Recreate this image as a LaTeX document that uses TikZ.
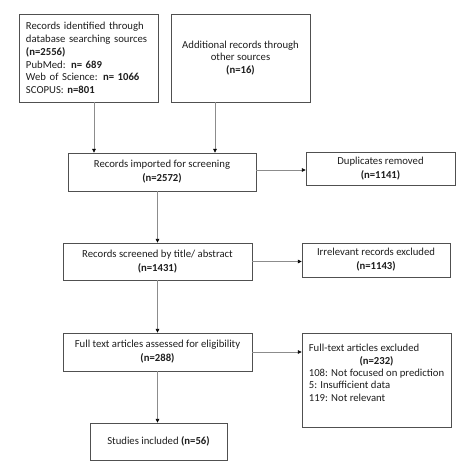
\documentclass[tikz,border=0pt]{standalone}
\usepackage{fontspec}
\setmainfont{Carlito}
\usetikzlibrary{arrows.meta}
\definecolor{boxgray}{HTML}{505050}
\definecolor{linegray}{HTML}{8C8C8C}
\definecolor{txt}{HTML}{1E1E1E}
\begin{document}
\begin{tikzpicture}[x=1bp,y=-1bp,
  box/.style={draw=boxgray, line width=0.9bp, rectangle, inner sep=0pt, align=center,
    text=txt, font=\fontsize{10.7bp}{14bp}\selectfont},
  tallbox/.style={box, font=\fontsize{10.7bp}{12.8bp}\selectfont},
  conn/.style={draw=linegray, line width=0.6bp,
    -{Triangle[width=3.6bp,length=3.6bp,fill=black,color=black]}}]
\useasboundingbox (0,0) rectangle (474,475);
\fill[white] (0,0) rectangle (474,475);

\node[tallbox, minimum width=139bp, minimum height=88bp, text width=125bp, align=left] (A) at (88.5,58)
  {Records identified through\\ database searching sources\\ \textbf{(n=2556)}\\ PubMed: \textbf{n= 689}\\ Web of Science: \textbf{n= 1066}\\ SCOPUS: \textbf{n=801}};
\node[tallbox, minimum width=139bp, minimum height=88bp] (B) at (240.5,58)
  {Additional records through\\ other sources\\ \textbf{(n=16)}};
\node[box, minimum width=188bp, minimum height=38bp] (C) at (162,172)
  {Records imported for screening\\ \textbf{(n=2572)}};
\node[box, minimum width=149bp, minimum height=33bp] (D) at (380.5,168.5)
  {Duplicates removed\\ \textbf{(n=1141)}};
\node[box, minimum width=189bp, minimum height=37bp] (E) at (157.5,261.5)
  {Records screened by title/ abstract\\ \textbf{(n=1431)}};
\node[box, minimum width=148bp, minimum height=34bp] (F) at (376,260)
  {Irrelevant records excluded\\ \textbf{(n=1143)}};
\node[box, minimum width=189bp, minimum height=38bp] (G) at (157.5,352)
  {Full text articles assessed for eligibility\\ \textbf{(n=288)}};
\node[tallbox, minimum width=149bp, minimum height=94bp] (H) at (376.5,380)
  {\raisebox{0pt}[\height][\dimexpr\depth+12bp]{\renewcommand{\arraystretch}{0.97}\begin{tabular}{@{}l@{}}Full-text articles excluded\\
   \multicolumn{1}{@{}c@{}}{\textbf{(n=232)}}\\ 108: Not focused on prediction\\ 5: Insufficient data\\ 119: Not relevant\end{tabular}}};
\node[box, minimum width=137bp, minimum height=37bp] (I) at (158.5,441.5)
  {Studies included \textbf{(n=56)}};

\draw[conn] ([xshift=5.5bp]A.south) -- ([xshift=5.5bp]A.south |- C.north);
\draw[conn] ([xshift=-25.5bp]B.south) -- ([xshift=-25.5bp]B.south |- C.north);
\draw[conn] ([yshift=2bp]C.east) -- ([yshift=2bp]C.east -| D.west);
\draw[conn] (E.north |- C.south) -- (E.north);
\draw[conn] (E.east) -- (E.east -| F.west);
\draw[conn] (E.south) -- (G.north);
\draw[conn] (G.east) -- (G.east -| H.west);
\draw[conn] (G.south) -- (G.south |- I.north);
\end{tikzpicture}
\end{document}
